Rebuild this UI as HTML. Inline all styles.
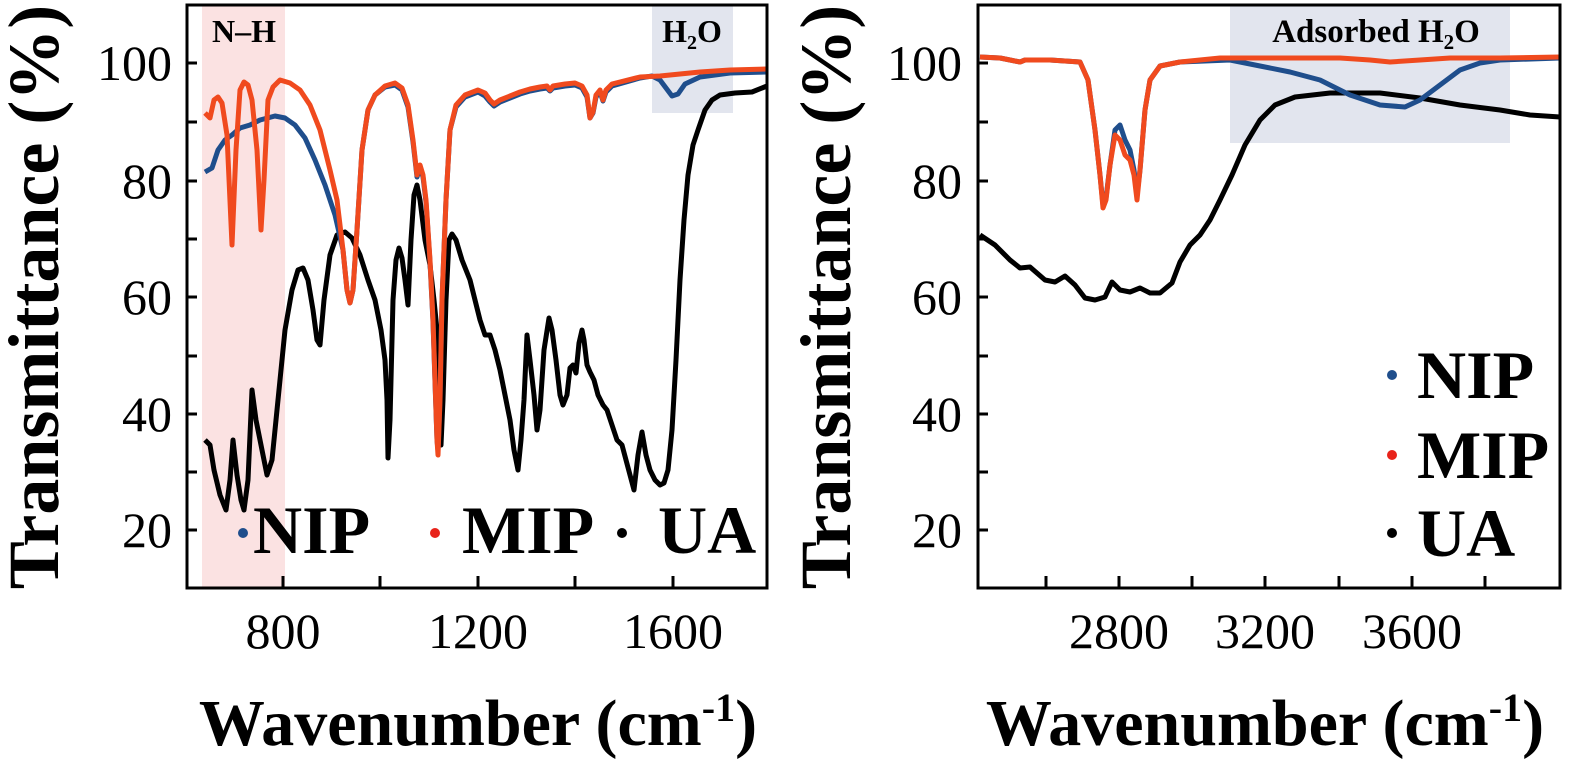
<!DOCTYPE html>
<html><head><meta charset="utf-8"><style>
body{margin:0;background:#fff;}
svg{display:block}
text{font-family:"Liberation Serif",serif;fill:#000}
</style></head><body>
<svg width="1570" height="764" viewBox="0 0 1570 764" xmlns="http://www.w3.org/2000/svg">
<rect x="202" y="5" width="83" height="583" fill="#fbe2e2"/>
<rect x="652" y="5" width="81" height="108" fill="#e2e5ee"/>
<rect x="1230" y="5" width="280" height="138" fill="#e2e5ee"/>
<g fill="none" stroke-width="5" stroke-linejoin="round">
<polyline stroke="#000" points="205,440 210,445 214,470 220,495 226,510 230,480 233,440 237,475 241,500 244,510 248,480 252,390 256,420 262,450 267,475 272,460 278,400 285,330 292,290 298,270 303,268 308,280 313,310 317,340 320,345 324,300 330,255 337,235 345,232 352,238 360,255 368,280 375,300 381,330 385,360 387,400 388,458 390,420 393,300 396,260 399,248 402,258 405,280 408,305 411,240 414,195 417,185 420,200 425,240 430,265 434,300 437,330 439,360 440,400 441,445 443,400 446,300 449,240 452,234 456,240 462,260 470,280 475,300 480,320 485,335 490,335 495,350 500,370 505,395 510,420 514,450 518,470 521,440 524,400 527,335 530,360 534,395 537,430 540,410 544,350 549,318 552,330 556,360 560,395 563,405 567,395 570,368 573,365 576,373 579,343 582,330 584,340 587,365 590,372 594,380 598,395 603,405 607,410 612,425 617,440 622,445 626,460 630,475 634,490 638,455 642,432 646,455 650,470 655,480 660,485 664,483 668,470 672,430 676,360 680,280 684,220 688,175 693,145 698,130 705,110 712,100 720,95 735,93 752,92 767,86"/>
<polyline stroke="#1f4e8c" points="205,172 212,168 218,150 225,140 232,135 240,128 250,125 260,120 275,116 285,118 295,125 305,138 315,160 325,185 335,215 343,250 347,290 350,303 353,290 357,230 362,150 368,110 375,95 385,87 395,85 402,90 408,107 413,142 417,177 420,167 423,177 426,202 430,262 433,322 435,382 437,440 438,450 440,400 442,300 446,200 450,130 456,107 465,97 478,92 485,96 490,102 494,106 500,102 510,98 520,94 530,91 540,89 547,88 550,91 553,88 565,86 575,85 582,88 587,97 590,118 593,113 596,97 600,92 603,101 606,92 612,86 640,78 652,76 660,80 666,88 672,96 678,94 685,84 700,77 730,73 767,72"/>
<polyline stroke="#f04a1e" points="205,113 210,118 214,100 218,97 222,103 227,135 232,245 236,150 240,90 244,82 248,85 252,100 257,150 261,230 264,180 268,100 273,87 280,80 290,83 300,90 310,105 320,130 330,170 337,200 343,250 347,290 350,303 353,290 357,230 362,150 368,110 375,95 385,86 395,83 402,88 408,105 413,140 417,175 420,165 423,175 426,200 430,260 433,320 435,380 437,440 438,455 440,400 442,300 446,200 450,130 456,105 465,95 478,90 485,93 490,100 494,104 500,100 510,96 520,92 530,89 540,87 547,86 550,90 553,86 565,84 575,83 582,86 587,95 590,118 593,112 596,95 600,90 603,100 606,90 612,84 640,77 660,76 680,74 700,72 730,70 767,69"/>
<polyline stroke="#000" points="980,235 995,245 1010,260 1020,268 1030,267 1045,280 1055,282 1065,276 1075,285 1085,298 1095,300 1105,297 1112,282 1120,290 1130,292 1140,288 1150,293 1160,293 1172,283 1180,262 1190,245 1200,235 1210,220 1220,200 1232,175 1245,145 1260,120 1275,105 1295,97 1330,93 1380,93 1420,98 1460,105 1500,110 1530,115 1560,117"/>
<polyline stroke="#1f4e8c" points="980,57 1000,58 1010,60 1020,62 1025,60 1050,60 1080,62 1088,80 1095,130 1100,175 1103,205 1106,198 1110,165 1115,130 1120,125 1125,140 1130,150 1134,170 1137,195 1140,170 1145,110 1150,80 1160,66 1180,62 1230,60 1260,66 1290,72 1320,80 1350,95 1380,105 1405,107 1420,100 1440,85 1460,70 1480,63 1500,60 1560,58"/>
<polyline stroke="#f04a1e" points="980,57 1000,58 1010,60 1020,62 1025,60 1050,60 1080,62 1088,80 1095,130 1100,175 1103,208 1106,200 1110,165 1115,135 1120,140 1125,155 1130,160 1134,175 1137,200 1140,170 1145,110 1150,80 1160,66 1180,62 1220,58 1300,58 1340,58 1370,60 1390,62 1420,60 1450,58 1500,58 1560,57"/>
</g>
<g stroke="#000" stroke-width="3" fill="none">
<rect x="187" y="5" width="580" height="583"/>
<rect x="978" y="5" width="582" height="583"/>
<path d="M187,63h10M187,122h10M187,181h10M187,239h10M187,297h10M187,356h10M187,414h10M187,472h10M187,530h10
M283,588v-12M380,588v-12M478,588v-12M575,588v-12M673,588v-12
M978,63h10M978,122h10M978,181h10M978,239h10M978,297h10M978,356h10M978,414h10M978,472h10M978,530h10
M1046,588v-12M1119,588v-12M1192,588v-12M1265,588v-12M1339,588v-12M1412,588v-12M1485,588v-12"/>
</g>
<g font-size="50" text-anchor="end">
<text x="172" y="80">100</text><text x="172" y="198">80</text><text x="172" y="314">60</text><text x="172" y="431">40</text><text x="172" y="547">20</text>
<text x="962" y="80">100</text><text x="962" y="198">80</text><text x="962" y="314">60</text><text x="962" y="431">40</text><text x="962" y="547">20</text>
</g>
<g font-size="50" text-anchor="middle">
<text x="283" y="648">800</text><text x="478" y="648">1200</text><text x="673" y="648">1600</text>
<text x="1119" y="648">2800</text><text x="1265" y="648">3200</text><text x="1412" y="648">3600</text>
</g>
<text font-size="72" font-weight="bold" text-anchor="middle" transform="translate(58,297) rotate(-90)">Transmittance (%)</text>
<text font-size="72" font-weight="bold" text-anchor="middle" transform="translate(850,297) rotate(-90)">Transmittance (%)</text>
<text x="478" y="745" font-size="66" font-weight="bold" text-anchor="middle">Wavenumber (cm<tspan font-size="40" dy="-24">-1</tspan><tspan dy="24">)</tspan></text>
<text x="1265" y="745" font-size="66" font-weight="bold" text-anchor="middle">Wavenumber (cm<tspan font-size="40" dy="-24">-1</tspan><tspan dy="24">)</tspan></text>
<text x="244" y="42" font-size="32" font-weight="bold" text-anchor="middle">N–H</text>
<text x="692" y="42" font-size="32" font-weight="bold" text-anchor="middle">H<tspan font-size="20" dy="7">2</tspan><tspan dy="-7">O</tspan></text>
<text x="1376" y="42" font-size="33" font-weight="bold" text-anchor="middle">Adsorbed H<tspan font-size="21" dy="7">2</tspan><tspan dy="-7">O</tspan></text>
<circle cx="243" cy="533" r="5" fill="#1f4e8c"/><text x="253" y="553" font-size="68" font-weight="bold">NIP</text>
<circle cx="435" cy="533" r="5" fill="#e8231a"/><text x="462" y="553" font-size="68" font-weight="bold">MIP</text>
<circle cx="622" cy="533" r="5" fill="#000"/><text x="658" y="553" font-size="68" font-weight="bold">UA</text>
<circle cx="1392" cy="375" r="5" fill="#1f4e8c"/><text x="1417" y="398" font-size="68" font-weight="bold">NIP</text>
<circle cx="1392" cy="455" r="5" fill="#e8231a"/><text x="1417" y="478" font-size="68" font-weight="bold">MIP</text>
<circle cx="1392" cy="533" r="5" fill="#000"/><text x="1417" y="556" font-size="68" font-weight="bold">UA</text>
</svg>
</body></html>
